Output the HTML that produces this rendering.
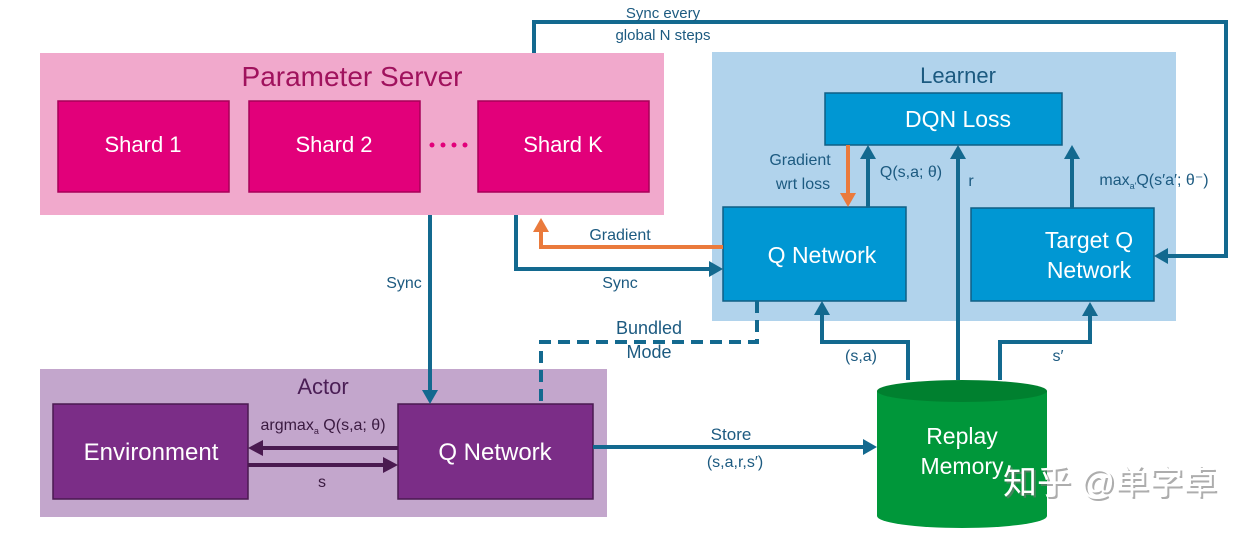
<!DOCTYPE html>
<html><head><meta charset="utf-8"><style>
html,body{margin:0;padding:0;background:#fff;width:1260px;height:533px;overflow:hidden}
text{font-family:"Liberation Sans","Noto Sans CJK SC",sans-serif}
</style></head><body>
<svg width="1260" height="533" viewBox="0 0 1260 533" xmlns="http://www.w3.org/2000/svg">
<rect x="40" y="53" width="624" height="162" fill="#f1a9cc"/>
<rect x="712" y="52" width="464" height="269" fill="#b1d3ec"/>
<rect x="40" y="369" width="567" height="148" fill="#c3a6cc"/>
<text x="352" y="86" font-size="28" fill="#a0125d" text-anchor="middle">Parameter Server</text>
<text x="958" y="83" font-size="22" fill="#1c5a80" text-anchor="middle">Learner</text>
<text x="323" y="394" font-size="22" fill="#4a1e55" text-anchor="middle">Actor</text>
<g fill="#e2007a" stroke="#a80058" stroke-width="1.5">
<rect x="58" y="101" width="171" height="91"/>
<rect x="249" y="101" width="171" height="91"/>
<rect x="478" y="101" width="171" height="91"/>
</g>
<g fill="#fff" font-size="22" text-anchor="middle">
<text x="143" y="152">Shard 1</text>
<text x="334" y="152">Shard 2</text>
<text x="563" y="152">Shard K</text>
</g>
<g fill="#e2007a"><circle cx="432" cy="145" r="2.5"/><circle cx="443" cy="145" r="2.5"/><circle cx="454" cy="145" r="2.5"/><circle cx="465" cy="145" r="2.5"/></g>
<g fill="#0097d3" stroke="#105f85" stroke-width="1.5">
<rect x="825" y="93" width="237" height="52"/>
<rect x="723" y="207" width="183" height="94"/>
<rect x="971" y="208" width="183" height="93"/>
</g>
<g fill="#fff" font-size="23" text-anchor="middle">
<text x="958" y="127">DQN Loss</text>
<text x="822" y="263">Q Network</text>
<text x="1089" y="248">Target Q</text>
<text x="1089" y="278">Network</text>
</g>
<g fill="#7b2d87" stroke="#4a1a50" stroke-width="1.5">
<rect x="53" y="404" width="195" height="95"/>
<rect x="398" y="404" width="195" height="95"/>
</g>
<g fill="#fff" font-size="24" text-anchor="middle">
<text x="151" y="460">Environment</text>
<text x="495" y="460">Q Network</text>
</g>
<path d="M877,391 L877,516 A85,12 0 0 0 1047,516 L1047,391 Z" fill="#00973a"/>
<ellipse cx="962" cy="391" rx="85" ry="11" fill="#00802f"/>
<text x="962" y="444" font-size="23" fill="#fff" text-anchor="middle">Replay</text>
<text x="962" y="474" font-size="23" fill="#fff" text-anchor="middle">Memory</text>
<g stroke="#13698f" stroke-width="4" fill="none">
<polyline points="534,53 534,22 1226,22 1226,256 1166,256"/>
<polyline points="430,215 430,392"/>
<polyline points="516,215 516,269 711,269"/>
<polyline points="868,207 868,157"/>
<polyline points="958,380 958,157"/>
<polyline points="1072,208 1072,157"/>
<polyline points="908,380 908,342 822,342 822,313"/>
<polyline points="1000,380 1000,342 1090,342 1090,314"/>
<polyline points="593,447 865,447"/>
<polyline points="757,301 757,342 541,342 541,404" stroke-dasharray="12,7"/>
</g>
<g fill="#13698f">
<path d="M1154,256 L1168,248 L1168,264Z"/>
<path d="M430,404 L422,390 L438,390Z"/>
<path d="M723,269 L709,261 L709,277Z"/>
<path d="M868,145 L860,159 L876,159Z"/>
<path d="M958,145 L950,159 L966,159Z"/>
<path d="M1072,145 L1064,159 L1080,159Z"/>
<path d="M822,301 L814,315 L830,315Z"/>
<path d="M1090,302 L1082,316 L1098,316Z"/>
<path d="M877,447 L863,439 L863,455Z"/>
</g>
<g stroke="#ea7a3c" stroke-width="4" fill="none">
<polyline points="723,247 541,247 541,230"/>
<polyline points="848,145 848,195"/>
</g>
<g fill="#ea7a3c">
<path d="M541,218 L533,232 L549,232Z"/>
<path d="M848,207 L840,193 L856,193Z"/>
</g>
<g stroke="#4a1a50" stroke-width="4">
<line x1="398" y1="448" x2="262" y2="448"/>
<line x1="248" y1="465" x2="384" y2="465"/>
</g>
<g fill="#4a1a50">
<path d="M248,448 L263,440 L263,456Z"/>
<path d="M398,465 L383,457 L383,473Z"/>
</g>
<g fill="#1c5a80" font-size="16" text-anchor="middle">
<text x="663" y="18" font-size="15">Sync every</text>
<text x="663" y="40" font-size="15">global N steps</text>
<text x="404" y="288">Sync</text>
<text x="620" y="288">Sync</text>
<text x="620" y="240">Gradient</text>
<text x="800" y="165">Gradient</text>
<text x="803" y="189">wrt loss</text>
<text x="911" y="177">Q(s,a; θ)</text>
<text x="971" y="186">r</text>
<text x="1154" y="185">max<tspan font-size="9" dy="4">a'</tspan><tspan dy="-4">Q(s′a′; θ⁻)</tspan></text>
<text x="649" y="334" font-size="18">Bundled</text>
<text x="649" y="358" font-size="18">Mode</text>
<text x="861" y="361">(s,a)</text>
<text x="1058" y="361">s′</text>
<text x="731" y="440" font-size="17">Store</text>
<text x="735" y="467">(s,a,r,s′)</text>
</g>
<text x="323" y="430" font-size="16" fill="#3a1a40" text-anchor="middle">argmax<tspan font-size="9" dy="4">a</tspan><tspan dy="-4"> Q(s,a; θ)</tspan></text>
<text x="322" y="487" font-size="16" fill="#3a1a40" text-anchor="middle">s</text>
<text x="1112" y="496" font-size="34" fill="#777" text-anchor="middle" opacity="0.6">知乎 @单字卓</text>
<text x="1110" y="494" font-size="34" fill="#fff" text-anchor="middle">知乎 @单字卓</text>
</svg>
</body></html>
